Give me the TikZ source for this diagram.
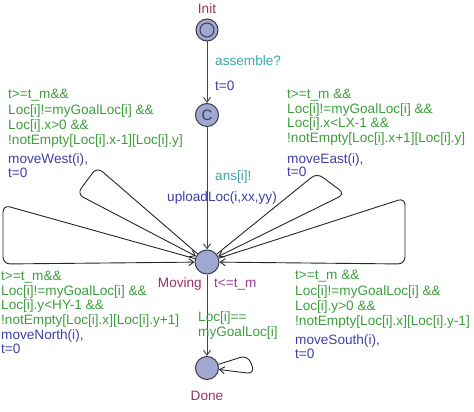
\documentclass[tikz,border=0pt]{standalone}
\usepackage{fontspec}
\setmainfont{Liberation Sans}
\usetikzlibrary{arrows.meta}
\definecolor{guardc}{RGB}{60,158,60}
\definecolor{updc}{RGB}{62,62,168}
\definecolor{syncc}{RGB}{60,166,172}
\definecolor{namec}{RGB}{150,50,100}
\definecolor{invc}{RGB}{150,60,150}
\definecolor{locfill}{RGB}{160,168,210}
\definecolor{locdraw}{RGB}{60,60,80}
\definecolor{edgec}{RGB}{70,70,70}
\begin{document}
\begin{tikzpicture}[x=1pt,y=-1pt,
  loc/.style={circle,draw=locdraw,fill=locfill,line width=1pt,inner sep=0pt},
  edge/.style={draw=edgec,line width=0.9pt,-{Straight Barb[length=5pt,width=7pt]}},
  loopedge/.style={edge,draw=black!85,rounded corners=7pt},
  txt/.style={anchor=base west,inner sep=0pt,font=\fontsize{13.6}{15}\selectfont},
  guard/.style={txt,text=guardc},
  upd/.style={txt,text=updc},
  sync/.style={txt,text=syncc},
  locname/.style={txt,text=namec},
  inv/.style={txt,text=invc}
]
\useasboundingbox (0,0) rectangle (474,412);

% locations
\node[loc,minimum size=22pt] (init) at (207,30) {};
\node[loc,minimum size=14pt] (initin) at (init.center) {};
\node[loc,minimum size=23pt,font=\fontsize{15}{15}\selectfont,text=locdraw] (c) at (207,115) {C};
\node[loc,minimum size=24pt] (moving) at (207,262) {};
\node[loc,minimum size=23pt] (done) at (207,368) {};

\node[locname,anchor=base] (ninit) at (207,14) {Init};
\node[locname,anchor=base east] (nmoving) at (202,287) {Moving};
\node[inv] (imoving) at (214,287) {t<=t\_m};
\node[locname,anchor=base] (ndone) at (207,400) {Done};

% corner coordinates of the loops
\coordinate (w1a) at (97,167);
\coordinate (w1b) at (77,194);
\coordinate (w2a) at (3,205);
\coordinate (w2b) at (3,264);
\coordinate (e1a) at (317,173);
\coordinate (e1b) at (345,194);
\coordinate (e2a) at (405,198);
\coordinate (e2b) at (405,264);
\coordinate (d1a) at (248,355);
\coordinate (d1b) at (255,374);

% edges
\draw[edge] (init) -- (c);
\draw[edge] (c) -- (moving);
\draw[edge] (moving) -- (done);
\draw[loopedge] (moving) -- (w1a) -- (w1b) -- (moving);
\draw[loopedge] (moving) -- (w2a) -- (w2b) -- (moving);
\draw[loopedge] (moving) -- (e1a) -- (e1b) -- (moving);
\draw[loopedge] (moving) -- (e2a) -- (e2b) -- (moving);
\draw[loopedge,rounded corners=8pt] (done) -- (d1a) -- (d1b) -- (done);

% labels of the init -> C edge
\node[sync] (lassemble) at (215,66) {assemble?};
\node[upd] (lt0a) at (215,90) {t=0};

% C -> Moving
\node[sync] (lans) at (215,180) {ans[i]!};
\node[upd] (lupload) at (167,201) {uploadLoc(i,xx,yy)};

% west
\node[guard] (gw1) at (8,99) {t>=t\_m\&\&};
\node[guard] (gw2) at (8,114) {Loc[i]!=myGoalLoc[i] \&\&};
\node[guard] (gw3) at (8,129) {Loc[i].x>0 \&\&};
\node[guard] (gw4) at (8,144) {!notEmpty[Loc[i].x-1][Loc[i].y]};
\node[upd] (uw1) at (8,163) {moveWest(i),};
\node[upd] (uw2) at (8,177) {t=0};

% east
\node[guard] (ge1) at (287,99) {t>=t\_m \&\&};
\node[guard] (ge2) at (287,113.5) {Loc[i]!=myGoalLoc[i] \&\&};
\node[guard] (ge3) at (287,128) {Loc[i].x<LX-1 \&\&};
\node[guard] (ge4) at (287,142.5) {!notEmpty[Loc[i].x+1][Loc[i].y]};
\node[upd] (ue1) at (287,163) {moveEast(i),};
\node[upd] (ue2) at (287,176) {t=0};

% north
\node[guard] (gn1) at (1,280) {t>=t\_m\&\&};
\node[guard] (gn2) at (1,295) {Loc[i]!=myGoalLoc[i] \&\&};
\node[guard] (gn3) at (1,309.5) {Loc[i].y<HY-1 \&\&};
\node[guard] (gn4) at (1,324) {!notEmpty[Loc[i].x][Loc[i].y+1]};
\node[upd] (un1) at (1,339.5) {moveNorth(i),};
\node[upd] (un2) at (1,353.5) {t=0};

% south
\node[guard] (gs1) at (295,279) {t>=t\_m \&\&};
\node[guard] (gs2) at (295,295) {Loc[i]!=myGoalLoc[i] \&\&};
\node[guard] (gs3) at (295,310) {Loc[i].y>0 \&\&};
\node[guard] (gs4) at (295,325) {!notEmpty[Loc[i].x][Loc[i].y-1]};
\node[upd] (us1) at (295,344) {moveSouth(i),};
\node[upd] (us2) at (295,358) {t=0};

% Moving -> Done
\node[guard] (gd1) at (198,321) {Loc[i]==};
\node[guard] (gd2) at (198,336) {myGoalLoc[i]};
\end{tikzpicture}
\end{document}
